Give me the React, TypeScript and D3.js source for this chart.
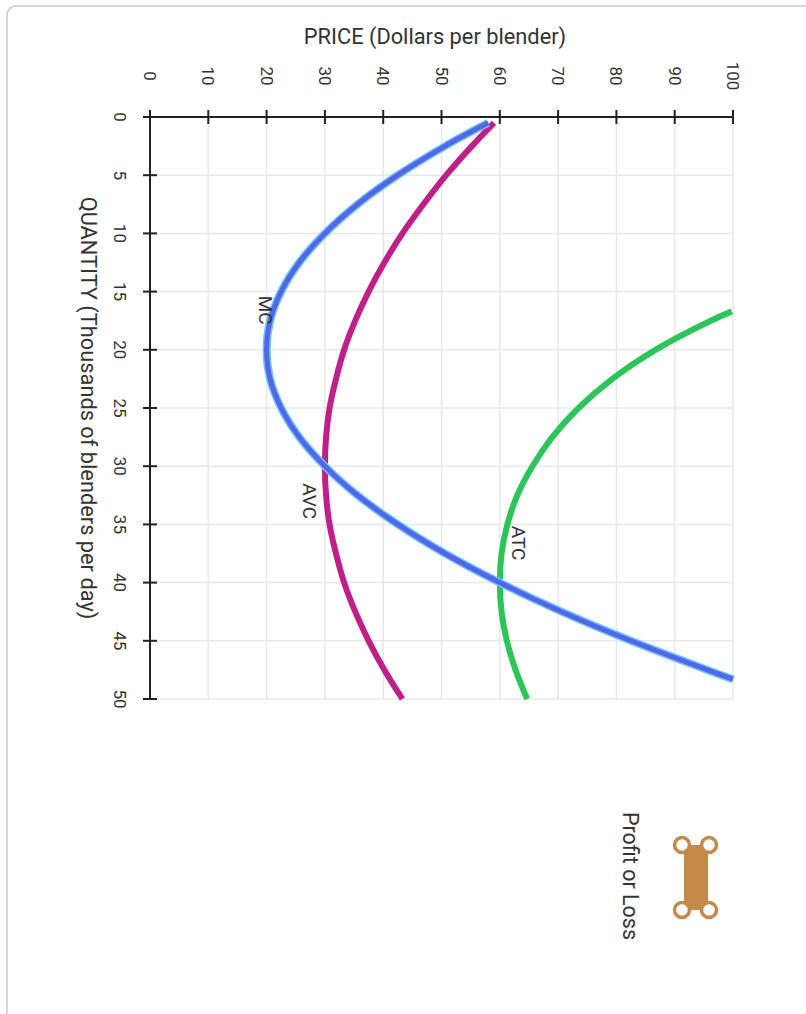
import * as d3 from "d3";

// Quantity (thousands of blenders per day) vs price (dollars per blender)
const priceTicks = [0, 10, 20, 30, 40, 50, 60, 70, 80, 90, 100];
const quantityTicks = [0, 5, 10, 15, 20, 25, 30, 35, 40, 45, 50];

const mcQuantity = [0.5, 2.5, 5, 7.5, 10, 12.5, 15, 17.5, 20, 22.5, 25, 27.5, 30, 32.5, 35, 37.5, 40, 42.5, 45, 47.5, 48.3];
const mcPrice = [58.0, 50.6, 42.5, 35.6, 30.0, 25.6, 22.5, 20.6, 20.0, 20.6, 22.5, 25.6, 30.0, 35.6, 42.5, 50.6, 60.0, 70.6, 82.5, 95.6, 100];

const avcQuantity = [0.5, 2.5, 5, 7.5, 10, 12.5, 15, 17.5, 20, 22.5, 25, 27.5, 30, 32.5, 35, 37.5, 40, 42.5, 45, 47.5, 50];
const avcPrice = [59.0, 55.2, 50.8, 46.9, 43.3, 40.2, 37.5, 35.2, 33.3, 31.9, 30.8, 30.2, 30.0, 30.2, 30.8, 31.9, 33.3, 35.2, 37.5, 40.2, 43.3];

const atcQuantity = [16.7, 17.5, 20, 22.5, 25, 27.5, 30, 32.5, 35, 37.5, 40, 42.5, 45, 47.5, 50];
const atcPrice = [99.8, 96.2, 86.7, 79.3, 73.5, 69.0, 65.6, 63.0, 61.3, 60.3, 60.0, 60.3, 61.2, 62.7, 64.7];

const curveLabels = [
  { name: "MC", q: 16.6, p: 19.8 },
  { name: "AVC", q: 33.0, p: 27.4 },
  { name: "ATC", q: 36.6, p: 63.2 },
];

const font = "Roboto, 'Noto Sans', sans-serif";
const textColor = "#333";

export default function App() {
  const x = d3.scaleLinear().domain([0, 100]).range([150, 733]);
  const y = d3.scaleLinear().domain([0, 50]).range([117, 699]);

  const line = d3
    .line<[number, number]>()
    .x((d) => x(d[1]))
    .y((d) => y(d[0]))
    .curve(d3.curveCatmullRom);

  const mcPath = line(mcQuantity.map((q, i) => [q, mcPrice[i]])) ?? "";
  const avcPath = line(avcQuantity.map((q, i) => [q, avcPrice[i]])) ?? "";
  const atcPath = line(atcQuantity.map((q, i) => [q, atcPrice[i]])) ?? "";

  const [x0, x1] = x.range();
  const [y0, y1] = y.range();

  return (
    <svg
      width={806}
      height={1014}
      style={{ position: "absolute", left: 0, top: 0, background: "#fff" }}
      fontFamily={font}
    >
      <rect x={7} y={6} width={830} height={1040} rx={9} fill="#fff" stroke="#c8c8c8" strokeWidth={1.5} />

      {/* grid */}
      {priceTicks.slice(1).map((t) => (
        <line key={"gx" + t} x1={x(t)} x2={x(t)} y1={y0} y2={y1} stroke="#e8e8e8" strokeWidth={1.5} />
      ))}
      {quantityTicks.slice(1).map((t) => (
        <line key={"gy" + t} x1={x0} x2={x1} y1={y(t)} y2={y(t)} stroke="#e8e8e8" strokeWidth={1.5} />
      ))}

      {/* axes */}
      <line x1={x0} x2={x1} y1={y0} y2={y0} stroke="#222" strokeWidth={2} />
      <line x1={x0} x2={x0} y1={y0} y2={y1} stroke="#222" strokeWidth={2} />
      {priceTicks.map((t) => (
        <g key={"px" + t}>
          <line x1={x(t)} x2={x(t)} y1={y0 - 7} y2={y0 + 7} stroke="#222" strokeWidth={2} />
          <text
            transform={`translate(${x(t)},76) rotate(90)`}
            textAnchor="middle"
            dominantBaseline="central"
            fontSize={17}
            fill={textColor}
          >
            {t}
          </text>
        </g>
      ))}
      {quantityTicks.map((t) => (
        <g key={"qy" + t}>
          <line x1={x0 - 7} x2={x0 + 7} y1={y(t)} y2={y(t)} stroke="#222" strokeWidth={2} />
          <text
            transform={`translate(120,${y(t)}) rotate(90)`}
            textAnchor="middle"
            dominantBaseline="central"
            fontSize={17}
            fill={textColor}
          >
            {t}
          </text>
        </g>
      ))}

      <text x={435} y={36} textAnchor="middle" dominantBaseline="central" fontSize={21.8} fill={textColor}>
        PRICE (Dollars per blender)
      </text>
      <text
        transform={`translate(88,${(y0 + y1) / 2}) rotate(90)`}
        textAnchor="middle"
        dominantBaseline="central"
        fontSize={21.8}
        fill={textColor}
      >
        QUANTITY (Thousands of blenders per day)
      </text>

      {/* curves */}
      <path d={atcPath} fill="none" stroke="#2cc55a" strokeWidth={6} />
      <path d={avcPath} fill="none" stroke="#c01f8a" strokeWidth={6} />
      <path d={mcPath} fill="none" stroke="#6cc4f7" strokeWidth={8} />
      <path d={mcPath} fill="none" stroke="#5366ea" strokeWidth={5} />

      {curveLabels.map((l) => (
        <text
          key={l.name}
          transform={`translate(${x(l.p)},${y(l.q)}) rotate(90)`}
          textAnchor="middle"
          dominantBaseline="central"
          fontSize={19}
          fill={textColor}
        >
          {l.name}
        </text>
      ))}

      {/* profit or loss tool */}
      <text
        transform="translate(630,876) rotate(90)"
        textAnchor="middle"
        dominantBaseline="central"
        fontSize={21.5}
        fill={textColor}
      >
        Profit or Loss
      </text>
      <rect x={684} y={845} width={24} height={65} fill="#c48a4a" />
      {[
        [682, 845],
        [709, 845],
        [682, 910],
        [709, 910],
      ].map(([cx, cy], i) => (
        <circle key={i} cx={cx} cy={cy} r={7.5} fill="#fff" stroke="#c48a4a" strokeWidth={3.5} />
      ))}
    </svg>
  );
}
